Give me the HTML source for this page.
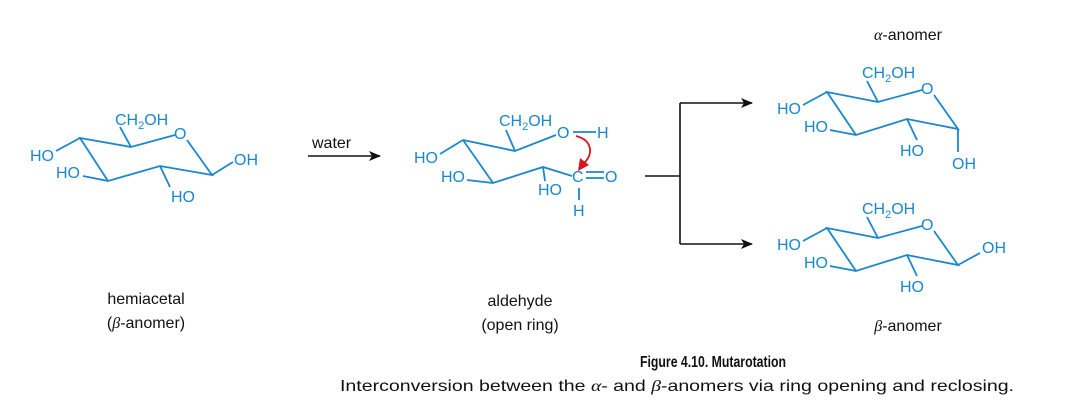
<!DOCTYPE html>
<html><head><meta charset="utf-8"><style>
html,body{margin:0;padding:0;background:#fff;}
svg{display:block;}
.b{stroke:#1a87cf;stroke-width:1.8;fill:none;}
.t{fill:#1a87cf;font-family:"Liberation Sans",sans-serif;font-size:16px;}
.k{fill:#111;font-family:"Liberation Sans",sans-serif;font-size:16px;}
</style></head><body>
<svg width="1066" height="414" viewBox="0 0 1066 414">
<defs><marker id="ar" markerWidth="12" markerHeight="12" refX="11" refY="6" orient="auto" markerUnits="userSpaceOnUse"><path d="M0,1 L12,6 L0,11 L3,6Z" fill="#111"/></marker></defs>

<g>
<path class="b" d="M120,127 L131,147 L175,135 M187,140 L212,175 L160,166 L108,181 L80,138 L131,147 M56,151 L80,138 M83,176 L108,181 M160,166 L170,187 M212,175 L233,162"/>
<text class="t" x="115" y="125">CH<tspan font-size="11" dy="4">2</tspan><tspan dy="-4">OH</tspan></text>
<text class="t" x="174" y="139">O</text>
<text class="t" x="30" y="161">HO</text>
<text class="t" x="56" y="178">HO</text>
<text class="t" x="171" y="202">HO</text>
<text class="t" x="234" y="165">OH</text>
</g>

<text class="k" x="312" y="148">water</text>
<line x1="308" y1="156" x2="380" y2="156" stroke="#111" stroke-width="1.6" marker-end="url(#ar)"/>

<g>
<path class="b" d="M506,130 L515,151 L556,135 M463,140 L515,151 M463,140 L493,183 L543,167 L572,176 M440,154 L463,140 M467,180 L493,183 M543,167 L545,181 M573,132 L596,132 M579,188 L579,200 M586,172 L604,172 M586,178 L604,178"/>
<text class="t" x="499" y="126">CH<tspan font-size="11" dy="4">2</tspan><tspan dy="-4">OH</tspan></text>
<text class="t" x="557" y="138">O</text>
<text class="t" x="597" y="138">H</text>
<text class="t" x="414" y="163">HO</text>
<text class="t" x="441" y="182">HO</text>
<text class="t" x="538" y="195">HO</text>
<text class="t" x="572" y="182">C</text>
<text class="t" x="605" y="182">O</text>
<text class="t" x="573" y="216">H</text>
<path d="M576,136 C592,140 594,154 584,163" stroke="#d9161c" stroke-width="1.8" fill="none"/>
<path d="M578,171 L580,158 L589,165Z" fill="#d9161c"/>
</g>

<path d="M645,176 L680,176 M680,103 L680,244" stroke="#111" stroke-width="1.6" fill="none"/>
<line x1="680" y1="103" x2="752" y2="103" stroke="#111" stroke-width="1.6" marker-end="url(#ar)"/>
<line x1="680" y1="244" x2="752" y2="244" stroke="#111" stroke-width="1.6" marker-end="url(#ar)"/>

<g>
<path class="b" d="M867,81 L878,102 L922,90 M934,95 L958,129 L907,119 L856,135 L827,92 L878,102 M803,105 L827,92 M830,130 L856,135 M907,119 L917,140 M958,129 L958,152"/>
<text class="t" x="862" y="78">CH<tspan font-size="11" dy="4">2</tspan><tspan dy="-4">OH</tspan></text>
<text class="t" x="921" y="94">O</text>
<text class="t" x="777" y="114">HO</text>
<text class="t" x="804" y="132">HO</text>
<text class="t" x="900" y="156">HO</text>
<text class="t" x="952" y="169">OH</text>
</g>

<g transform="translate(0,136)">
<path class="b" d="M867,81 L878,102 L922,90 M934,95 L958,129 L907,119 L856,135 L827,92 L878,102 M803,105 L827,92 M830,130 L856,135 M907,119 L917,140 M958,129 L980,117"/>
<text class="t" x="862" y="78">CH<tspan font-size="11" dy="4">2</tspan><tspan dy="-4">OH</tspan></text>
<text class="t" x="921" y="94">O</text>
<text class="t" x="777" y="114">HO</text>
<text class="t" x="804" y="132">HO</text>
<text class="t" x="900" y="156">HO</text>
<text class="t" x="982" y="117">OH</text>
</g>

<text class="k" x="146" y="304" text-anchor="middle">hemiacetal</text>
<text class="k" x="146" y="328" text-anchor="middle">(<tspan font-style="italic" font-family="Liberation Serif">β</tspan>-anomer)</text>
<text class="k" x="520" y="306" text-anchor="middle">aldehyde</text>
<text class="k" x="520" y="330" text-anchor="middle">(open ring)</text>
<text class="k" x="908" y="40" text-anchor="middle"><tspan font-style="italic" font-family="Liberation Serif">α</tspan>-anomer</text>
<text class="k" x="908" y="331" text-anchor="middle"><tspan font-style="italic" font-family="Liberation Serif">β</tspan>-anomer</text>
<text class="k" x="640" y="367" font-weight="bold" font-size="19" textLength="146" lengthAdjust="spacingAndGlyphs">Figure 4.10.  Mutarotation</text>
<text class="k" x="340" y="391" font-size="19" textLength="674" lengthAdjust="spacingAndGlyphs">Interconversion between the <tspan font-style="italic" font-family="Liberation Serif">α</tspan>- and <tspan font-style="italic" font-family="Liberation Serif">β</tspan>-anomers via ring opening and reclosing.</text>
</svg>
</body></html>
